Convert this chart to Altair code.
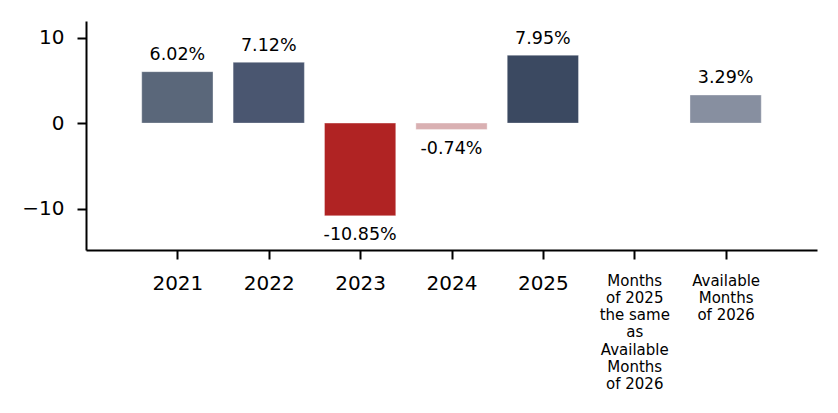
import altair as alt
import pandas as pd

# Year-over-year change, in percent
categories = ["2021", "2022", "2023", "2024", "2025",
              "Months|of 2025|the same|as|Available|Months|of 2026",
              "Available|Months|of 2026"]
values = [6.02, 7.12, -10.85, -0.74, 7.95, None, 3.29]
bar_colors = ["#5a677a", "#4a5670", "#b02323", "#d9b0b2", "#3b4961", "#ffffff", "#878fa0"]

df = pd.DataFrame({
    "idx": list(range(len(categories))),
    "cat": categories,
    "v": values,
})
bars_df = df.dropna(subset=["v"])

label_expr = "split([" + ",".join("'" + c + "'" for c in categories) + "][datum.value], '|')"

x_scale = alt.Scale(domain=[-1, 7], nice=False, zero=False)
y_scale = alt.Scale(domain=[-14.85, 11.95], nice=False, zero=False)

x_axis = alt.Axis(
    values=list(range(len(categories))),
    labelExpr=label_expr,
    title=None,
    grid=False,
    labelAngle=0,
    labelFont="DejaVu Sans",
    labelFontSize=alt.condition("datum.value >= 5", alt.value(15), alt.value(20)),
    labelLineHeight=17.3,
    labelColor="#000000",
    labelPadding=14,
    labelBaseline="top",
    tickSize=9,
    tickWidth=2,
    tickColor="#000000",
    domainColor="#000000",
    domainWidth=2,
)
y_axis = alt.Axis(
    values=[-10, 0, 10],
    title=None,
    grid=False,
    labelFont="DejaVu Sans",
    labelFontSize=20,
    labelColor="#000000",
    labelPadding=13,
    tickSize=9,
    tickWidth=2,
    tickColor="#000000",
    domainColor="#000000",
    domainWidth=2,
)

base = alt.Chart(bars_df).transform_calculate(
    x0="datum.idx - 0.39",
    x1="datum.idx + 0.39",
    zero="0",
    label="(datum.v < 0 ? '-' : '') + format(abs(datum.v), '.2f') + '%'",
)

color = alt.Color("cat:N", scale=alt.Scale(domain=categories, range=bar_colors), legend=None)

bars = base.mark_bar(stroke="#ffffff", strokeOpacity=0.35, strokeWidth=1).encode(
    x=alt.X("x0:Q", scale=x_scale, axis=x_axis),
    x2="x1:Q",
    y=alt.Y("v:Q", scale=y_scale, axis=y_axis),
    y2="zero:Q",
    color=color,
)

pos_labels = base.transform_filter("datum.v >= 0").mark_text(
    font="DejaVu Sans", fontSize=17.5, color="#000000", baseline="alphabetic", dy=-11.5
).encode(
    x=alt.X("idx:Q", scale=x_scale),
    y=alt.Y("v:Q", scale=y_scale),
    text="label:N",
)

neg_labels = base.transform_filter("datum.v < 0").mark_text(
    font="DejaVu Sans", fontSize=17.5, color="#000000", baseline="alphabetic", dy=24.3
).encode(
    x=alt.X("idx:Q", scale=x_scale),
    y=alt.Y("v:Q", scale=y_scale),
    text="label:N",
)

chart = alt.layer(bars, pos_labels, neg_labels).properties(
    width=731,
    height=229,
    autosize=alt.AutoSizeParams(type="none"),
    padding={"left": 86, "top": 21, "right": 21, "bottom": 163},
    background="#ffffff",
).configure_view(stroke=None)

chart.save("out.html", embed_options={"renderer": "svg", "actions": False})
